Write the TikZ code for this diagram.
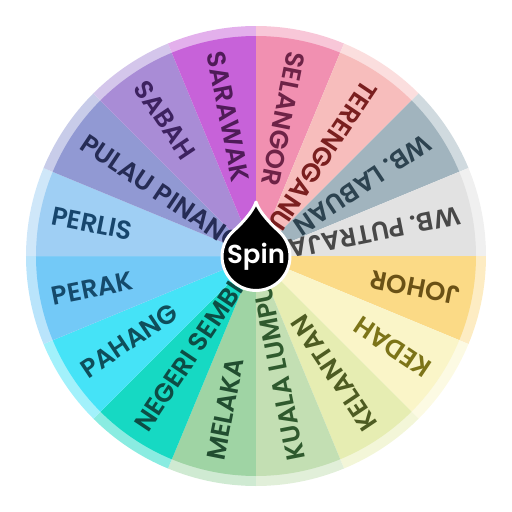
\documentclass[tikz,border=0pt]{standalone}
\usepackage{fontspec}
\newfontfamily\labfont{Poppins SemiBold}
\definecolor{segSel}{HTML}{F190B1}\definecolor{txtSel}{HTML}{6E2347}
\definecolor{segTer}{HTML}{F7BDBC}\definecolor{txtTer}{HTML}{7A1F1F}
\definecolor{segLab}{HTML}{A1B4BE}\definecolor{txtLab}{HTML}{2D4350}
\definecolor{segPut}{HTML}{E2E2E2}\definecolor{txtPut}{HTML}{484848}
\definecolor{segJoh}{HTML}{FBDA86}\definecolor{txtJoh}{HTML}{6A5116}
\definecolor{segKed}{HTML}{FAF5C8}\definecolor{txtKed}{HTML}{7C7418}
\definecolor{segKel}{HTML}{E6EDB2}\definecolor{txtKel}{HTML}{4E5C22}
\definecolor{segKua}{HTML}{C3DFB3}\definecolor{txtKua}{HTML}{2F5A2E}
\definecolor{segMel}{HTML}{9FD4A4}\definecolor{txtMel}{HTML}{214D30}
\definecolor{segNeg}{HTML}{16D9C3}\definecolor{txtNeg}{HTML}{0D4D45}
\definecolor{segPah}{HTML}{45E3F7}\definecolor{txtPah}{HTML}{0F4E5B}
\definecolor{segPrk}{HTML}{73C9F7}\definecolor{txtPrk}{HTML}{154A6B}
\definecolor{segPls}{HTML}{9FCFF4}\definecolor{txtPls}{HTML}{17466D}
\definecolor{segPul}{HTML}{9199D3}\definecolor{txtPul}{HTML}{262C55}
\definecolor{segSab}{HTML}{A98CD6}\definecolor{txtSab}{HTML}{3D2260}
\definecolor{segSar}{HTML}{C762D9}\definecolor{txtSar}{HTML}{4F1B58}
\tikzset{
  seglabel/.style={inner sep=0pt, anchor=west, font=\labfont\fontsize{26}{26}\selectfont},
  spinbtn/.style={fill=black, draw=white, line width=3pt, line join=round}
}
\begin{document}
\begin{tikzpicture}[x=1pt,y=1pt]
\useasboundingbox (-256,-256) rectangle (256,256);
\foreach \i/\nm/\c in {0/SELANGOR/Sel,1/TERENGGANU/Ter,2/WB. LABUAN/Lab,3/WB. PUTRAJAYA/Put,4/JOHOR/Joh,5/KEDAH/Ked,6/KELANTAN/Kel,7/KUALA LUMPUR/Kua,8/MELAKA/Mel,9/NEGERI SEMBILAN/Neg,10/PAHANG/Pah,11/PERAK/Prk,12/PERLIS/Pls,13/PULAU PINANG/Pul,14/SABAH/Sab,15/SARAWAK/Sar}{
  \pgfmathsetmacro{\aa}{90-22.5*\i}
  \pgfmathsetmacro{\ab}{90-22.5*(\i+1)}
  \fill[seg\c!50!white] (0,0) -- (\aa:230) arc[start angle=\aa, end angle=\ab, radius=230] -- cycle;
  \fill[seg\c] (0,0) -- (\aa:220) arc[start angle=\aa, end angle=\ab, radius=220] -- cycle;
}
\foreach \i/\nm/\c in {0/SELANGOR/Sel,1/TERENGGANU/Ter,2/WB. LABUAN/Lab,3/WB. PUTRAJAYA/Put,4/JOHOR/Joh,5/KEDAH/Ked,6/KELANTAN/Kel,7/KUALA LUMPUR/Kua,8/MELAKA/Mel,9/NEGERI SEMBILAN/Neg,10/PAHANG/Pah,11/PERAK/Prk,12/PERLIS/Pls,13/PULAU PINANG/Pul,14/SABAH/Sab,15/SARAWAK/Sar}{
  \pgfmathsetmacro{\am}{90-22.5*\i-11.25}
  \pgfmathsetmacro{\ar}{\am+180}
  \node[seglabel, text=txt\c, rotate=\ar] (l\i) at (\am:208) {\nm};
}
\coordinate (bc) at (0,-0.5);
\draw[spinbtn] (-22.75,24.8) .. controls (-15.3,31.5) and (-3,44) .. (0,54)
  .. controls (3,44) and (15.3,31.5) .. (22.75,24.8)
  arc[start angle=48, end angle=-228, radius=34] -- cycle;
\node[text=white, font=\labfont\fontsize{26}{26}\selectfont, inner sep=0pt] (spin) at (bc) {Spin};
\end{tikzpicture}
\end{document}
